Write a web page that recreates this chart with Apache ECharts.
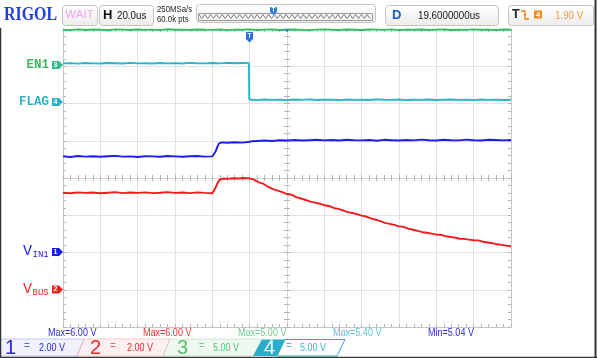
<!DOCTYPE html>
<html><head><meta charset="utf-8">
<script src="https://cdn.jsdelivr.net/npm/echarts@6/dist/echarts.min.js"></script>
<style>html,body{margin:0;padding:0;background:#fff}#c{width:597px;height:358px}</style>
</head><body><div id="c"></div>
<script>
// ---- data (time in µs, 0 = trigger; 20 µs/div) ----
const timeMin = -100, timeMax = 140, timeStep = 20;
const channelNames = ['VIN1', 'VBUS', 'EN1', 'FLAG'];
const channelScale = [2, 2, 5, 5];              // V/div
const channelOffsetDiv = [2.02, 1.02, 7.03, 6.04]; // ground marker, divisions from bottom
const scaleLabels = ['2.00 V', '2.00 V', '5.00 V', '5.00 V'];
const measureLabels = ['Max=6.00 V', 'Max=6.00 V', 'Max=5.00 V', 'Max=5.40 V', 'Min=5.04 V'];

const vin1 = [[-100,5.12],[-96,5.09],[-92,5.14],[-88,5.11],[-84,5.13],[-80,5.10],[-76,5.13],[-72,5.15],[-68,5.11],[-64,5.12],[-60,5.09],[-56,5.13],[-52,5.12],[-48,5.10],[-44,5.14],[-40,5.12],[-36,5.10],[-32,5.13],[-28,5.14],[-24,5.11],[-20,5.12],[-19.4,5.14],[-18.2,5.40],[-17.2,5.66],[-16.4,5.82],[-15,5.87],[-12,5.85],[-8,5.88],[-4,5.86],[-1,5.89],[1,5.93],[4,5.95],[8,5.97],[12,5.95],[16,5.99],[20,5.97],[24,6.00],[28,5.97],[32,5.99],[36,6.01],[40,5.98],[44,6.00],[48,5.97],[52,6.01],[56,5.99],[60,5.98],[64,6.00],[68,5.96],[72,6.01],[76,5.99],[80,5.97],[84,6.00],[88,5.98],[92,6.02],[96,5.99],[100,5.97],[104,6.01],[108,5.99],[112,5.98],[116,6.02],[120,5.99],[124,5.97],[128,6.01],[132,6.00],[136,5.98],[140,6.00]];

const vbus = [[-100,5.17],[-96,5.14],[-92,5.19],[-88,5.16],[-84,5.18],[-80,5.14],[-76,5.17],[-72,5.20],[-68,5.15],[-64,5.18],[-60,5.16],[-56,5.19],[-52,5.15],[-48,5.17],[-44,5.20],[-40,5.16],[-36,5.18],[-32,5.15],[-28,5.19],[-24,5.16],[-20,5.14],[-19.4,5.18],[-18.2,5.46],[-17,5.74],[-16,5.88],[-14,5.93],[-12,5.91],[-9,5.95],[-6,5.93],[-3,5.96],[0,5.94],[2.5,5.86],[5,5.72],[7.5,5.64],[10,5.48],[12.5,5.36],[15,5.28],[17.5,5.20],[20,5.10],[22.5,5.06],[25,4.93],[27.5,4.86],[30,4.78],[32.5,4.69],[35,4.64],[37.5,4.58],[40,4.50],[42.5,4.46],[45,4.36],[47.5,4.30],[50,4.22],[52.5,4.13],[55,4.08],[57.5,4.02],[60,3.94],[62.5,3.89],[65,3.79],[67.5,3.72],[70,3.64],[72.5,3.55],[75,3.50],[77.5,3.44],[80,3.36],[82.5,3.34],[85,3.24],[87.5,3.18],[90,3.12],[92.5,3.05],[95,3.02],[97.5,2.97],[100,2.92],[102.5,2.91],[105,2.84],[107.5,2.79],[110,2.76],[112.5,2.70],[115,2.69],[117.5,2.65],[120,2.62],[122.5,2.61],[125,2.54],[127.5,2.50],[130,2.46],[132.5,2.40],[135,2.37],[137.5,2.33],[140,2.28]];

const en1 = [[-100,4.75],[-96,4.70],[-92,4.80],[-88,4.72],[-84,4.78],[-80,4.74],[-76,4.69],[-72,4.80],[-68,4.76],[-64,4.72],[-60,4.79],[-56,4.73],[-52,4.77],[-48,4.70],[-44,4.81],[-40,4.74],[-36,4.76],[-32,4.71],[-28,4.79],[-24,4.75],[-20,4.73],[-16,4.78],[-12,4.70],[-8,4.77],[-4,4.74],[0,4.80],[4,4.72],[8,4.76],[12,4.79],[16,4.71],[20,4.75],[24,4.78],[28,4.73],[32,4.70],[36,4.77],[40,4.80],[44,4.74],[48,4.72],[52,4.78],[56,4.75],[60,4.71],[64,4.79],[68,4.76],[72,4.73],[76,4.80],[80,4.70],[84,4.77],[88,4.74],[92,4.78],[96,4.72],[100,4.76],[104,4.79],[108,4.71],[112,4.75],[116,4.73],[120,4.80],[124,4.74],[128,4.77],[132,4.70],[136,4.78],[140,4.75]];

const flag = [[-100,5.18],[-96,5.22],[-92,5.15],[-88,5.24],[-84,5.19],[-80,5.16],[-76,5.23],[-72,5.20],[-68,5.17],[-64,5.25],[-60,5.18],[-56,5.21],[-52,5.16],[-48,5.24],[-44,5.19],[-40,5.22],[-36,5.17],[-32,5.25],[-28,5.20],[-24,5.18],[-20,5.23],[-16,5.19],[-12,5.26],[-8,5.21],[-4,5.24],[-0.4,5.22],[-0.2,0.34],[0,0.30],[4,0.26],[8,0.34],[12,0.28],[16,0.31],[20,0.25],[24,0.33],[28,0.29],[32,0.36],[36,0.27],[40,0.32],[44,0.30],[48,0.26],[52,0.34],[56,0.29],[60,0.31],[64,0.27],[68,0.35],[72,0.30],[76,0.28],[80,0.33],[84,0.26],[88,0.31],[92,0.29],[96,0.34],[100,0.27],[104,0.30],[108,0.33],[112,0.28],[116,0.31],[120,0.26],[124,0.34],[128,0.29],[132,0.32],[136,0.27],[140,0.30]];

// ---- styling ----
const C = { blue:'#1c1cf0', red:'#f41a1a', green:'#2dbf5f', cyan:'#27b5cc' };
const gridLine = '#e3e3e3', borderC = '#c6c6c6', tickC = '#b4b4b4';
const G = { left:63, top:29, width:448, height:298 };

function frameAxis(extra) {
  return Object.assign({
    type:'value', axisLabel:{show:false}, splitLine:{show:false},
    axisLine:{show:true, onZero:false, lineStyle:{color:borderC, width:1}},
    axisTick:{show:true, inside:true, length:3, lineStyle:{color:tickC}},
    minorTick:{show:true, splitNumber:5, length:3, lineStyle:{color:tickC}}
  }, extra);
}
const xr = {min:timeMin, max:timeMax, interval:timeStep};
const yr = {min:0, max:8, interval:1};

const xAxis = [
  frameAxis(Object.assign({position:'bottom', splitLine:{show:true, lineStyle:{color:gridLine}}}, xr)),
  frameAxis(Object.assign({position:'top'}, xr)),
  frameAxis(Object.assign({position:'bottom', offset:-G.height/2, axisLine:{show:true,onZero:false,lineStyle:{color:'#d4d4d4'}}}, xr)),
  frameAxis(Object.assign({position:'bottom', offset:-G.height/2, axisLine:{show:false}, axisTick:{show:true,inside:false,length:3,lineStyle:{color:tickC}}}, xr))
];
const yAxis = [
  frameAxis(Object.assign({position:'left', splitLine:{show:true, lineStyle:{color:gridLine}}}, yr)),
  frameAxis(Object.assign({position:'right'}, yr)),
  frameAxis(Object.assign({position:'left', offset:-G.width/2, axisLine:{show:true,onZero:false,lineStyle:{color:'#c8c8c8',type:[1,3]}}}, yr)),
  frameAxis(Object.assign({position:'left', offset:-G.width/2, axisLine:{show:false}, axisTick:{show:true,inside:false,length:3,lineStyle:{color:tickC}}}, yr))
];
channelNames.forEach(function(n, i){
  yAxis.push({type:'value', show:false, name:n,
    min: -channelOffsetDiv[i]*channelScale[i], max:(8-channelOffsetDiv[i])*channelScale[i]});
});

function line(data, yi, color) {
  return {type:'line', data:data, xAxisIndex:0, yAxisIndex:yi, showSymbol:false, symbol:'none',
    silent:true, animation:false, lineStyle:{color:color, width:1.9}, z:5};
}

// ---- decorative graphics ----
const SANS = '"Liberation Sans", Arial, sans-serif';
function T(x, y, text, color, size, o) {
  o = o || {};
  return {type:'text', x:x, y:y, scaleX:o.sx || 1, z:20, silent:true,
    style:{text:text, fill:color, font:(o.w||'normal')+' '+size+'px '+(o.f||SANS),
      align:o.a||'left', verticalAlign:'middle', textAlign:o.a||'left', textVerticalAlign:'middle'}};
}
function box(x, y, w, h) {
  return {type:'rect', z:15, silent:true, shape:{x:x+0.5, y:y+0.5, width:w, height:h, r:3},
    style:{stroke:'#c4c4c4', lineWidth:1,
      fill:{type:'linear', x:0, y:0, x2:0, y2:1, colorStops:[{offset:0,color:'#ffffff'},{offset:1,color:'#ececec'}]}}};
}
function poly(pts, fill, stroke, z) {
  return {type:'polygon', z:z||16, silent:true, shape:{points:pts}, style:{fill:fill, stroke:stroke||null, lineWidth:1}};
}
function chMarker(y, color, num) {
  return [poly([[52,y-4],[59,y-4],[63,y],[59,y+4],[52,y+4]], color, null, 18),
          T(55.5, y, num, '#ffffff', 7, {a:'center', w:'bold'})];
}

const zig = [];
for (let x = 199, k = 0; x <= 372; x += 2.9, k++) zig.push([x, k % 2 ? 18.5 : 14.5]);

const g = [];
// outer frame
g.push({type:'line', z:30, silent:true, shape:{x1:0.5,y1:28,x2:0.5,y2:358}, style:{stroke:'#333',lineWidth:1.5}});
g.push({type:'line', z:30, silent:true, shape:{x1:595.5,y1:0,x2:595.5,y2:358}, style:{stroke:'#333',lineWidth:2}});
g.push({type:'line', z:30, silent:true, shape:{x1:0,y1:357.5,x2:597,y2:357.5}, style:{stroke:'#333',lineWidth:1.5}});
// top bar
g.push(T(4, 15, 'RIGOL', '#1f3fdc', 18.5, {w:'bold', f:'"Liberation Serif", serif', sx:0.86}));
g.push(box(62, 5, 35, 20)); g.push(T(79.5, 15, 'WAIT', '#f5a3ee', 11.5, {a:'center'}));
g.push(box(99, 5, 54, 20)); g.push(T(103, 15, 'H', '#111', 13, {w:'bold'}));
g.push(T(117, 15.5, '20.0us', '#111', 11.5, {sx:0.85}));
g.push(T(157, 9.5, '250MSa/s', '#222', 9.5, {sx:0.82}));
g.push(T(157, 19, '60.0k pts', '#222', 9.5, {sx:0.82}));
g.push(box(196, 4, 179, 18));
g.push({type:'rect', z:16, silent:true, shape:{x:198.5,y:13.5,width:174,height:7}, style:{fill:'#f6f6f6', stroke:'#9a9a9a', lineWidth:1}});
g.push({type:'polyline', z:17, silent:true, shape:{points:zig}, style:{stroke:'#7a7a7a', lineWidth:1, fill:null}});
g.push(poly([[270,7],[277,7],[277,12],[273.5,15],[270,12]], '#2d7ee0', null, 18));
g.push(T(273.5, 10.5, 'T', '#fff', 6.5, {a:'center', w:'bold'}));
g.push(box(385, 5, 113, 20)); g.push(T(392, 15, 'D', '#1a5ad6', 13, {w:'bold'}));
g.push(T(449, 15.5, '19.6000000us', '#111', 11.5, {a:'center', sx:0.85}));
g.push(box(508, 5, 85, 20)); g.push(T(512, 15, 'T', '#222', 12.5, {w:'bold'}));
g.push({type:'polyline', z:18, silent:true, shape:{points:[[521,11],[525,11],[525,19],[529,19]]}, style:{stroke:'#f0821e', lineWidth:1.3, fill:null}});
g.push(poly([[523.5,14],[526.5,14],[525,16.5]], '#f0821e', null, 18));
g.push({type:'rect', z:18, silent:true, shape:{x:534,y:10.5,width:8,height:8}, style:{fill:'#f08a20'}});
g.push(T(538, 14.8, '4', '#fff', 8, {a:'center', w:'bold'}));
g.push(T(555, 15.5, '1.90 V', '#f39a3c', 11.5, {sx:0.85}));
// trigger position markers on plot top
g.push(poly([[246,32],[253,32],[253,39],[249.5,42.5],[246,39]], '#2d6fd8', null, 18));
g.push(T(249.5, 36.5, 'T', '#fff', 6.5, {a:'center', w:'bold'}));
g.push(poly([[285,29],[289,29],[287,32.5]], '#2d6fd8', null, 18));
// left channel labels
const MONO = '"Liberation Mono", "Courier New", monospace';
g.push(T(49, 65, 'EN1', '#3cb85c', 12.5, {a:'right', f:MONO, w:'bold'}));
g.push(T(49, 102, 'FLAG', '#2fb2c8', 12.5, {a:'right', f:MONO, w:'bold'}));
g.push(T(23, 251, 'V', '#2020e8', 15, {f:MONO}));
g.push(T(32.5, 255, 'IN1', '#2020e8', 9, {f:MONO}));
g.push(T(23, 289, 'V', '#f02a2a', 15, {f:MONO}));
g.push(T(32.5, 293, 'BUS', '#f02a2a', 9, {f:MONO}));
[].push.apply(g, chMarker(65, '#34b88a', '3'));
[].push.apply(g, chMarker(102, '#2ab0c8', '4'));
[].push.apply(g, chMarker(252, '#1a1ae0', '1'));
[].push.apply(g, chMarker(289.5, '#e82020', '2'));
// measurement labels
const mColors = ['#2a2ae0', '#f03030', '#6ccf88', '#5cc0d8', '#2a2ae0'];
const mX = [48, 143, 238, 333, 428];
measureLabels.forEach(function(t, i){ g.push(T(mX[i], 333, t, mColors[i], 10.5, {sx:0.86})); });
// bottom channel bar
g.push(poly([[0,339],[84,339],[77,356],[0,356]], 'rgba(120,120,235,0.10)', 'rgba(150,150,235,0.5)', 12));
g.push(poly([[84,339],[170,339],[163,356],[77,356]], 'rgba(245,110,110,0.10)', 'rgba(245,160,160,0.5)', 12));
g.push(poly([[170,339],[262,339],[253,356],[163,356]], 'rgba(100,200,120,0.10)', 'rgba(160,220,170,0.5)', 12));
g.push(poly([[262,339.5],[285,339.5],[277,356],[253,356]], '#2aaec8', null, 13));
g.push(poly([[285,339.5],[345,339.5],[337,356],[277,356]], '#ffffff', '#2aaec8', 12));
g.push(T(5, 348.5, '1', '#2b2bd8', 20));
g.push(T(24, 346, '=', '#5a5ae0', 10));
g.push(T(39, 348, scaleLabels[0], '#2b2bd8', 10.5, {sx:0.86}));
g.push(T(90, 348.5, '2', '#f02828', 20));
g.push(T(110, 346, '=', '#f06060', 10));
g.push(T(127, 348, scaleLabels[1], '#f02828', 10.5, {sx:0.86}));
g.push(T(177, 348.5, '3', '#55c272', 20));
g.push(T(199, 346, '=', '#70cc88', 10));
g.push(T(213, 348, scaleLabels[2], '#55c272', 10.5, {sx:0.86}));
g.push(T(264, 348.5, '4', '#ffffff', 20));
g.push(T(286, 346, '=', '#4cb8d2', 10));
g.push(T(300, 348, scaleLabels[3], '#3cb4cf', 10.5, {sx:0.86}));

const chart = echarts.init(document.getElementById('c'), null, {renderer:'canvas'});
chart.setOption({
  animation:false,
  backgroundColor:'#ffffff',
  grid: Object.assign({containLabel:false}, G),
  xAxis: xAxis,
  yAxis: yAxis,
  series: [line(en1, 6, C.green), line(flag, 7, C.cyan), line(vin1, 4, C.blue), line(vbus, 5, C.red)],
  graphic: {elements: g}
});
</script></body></html>
